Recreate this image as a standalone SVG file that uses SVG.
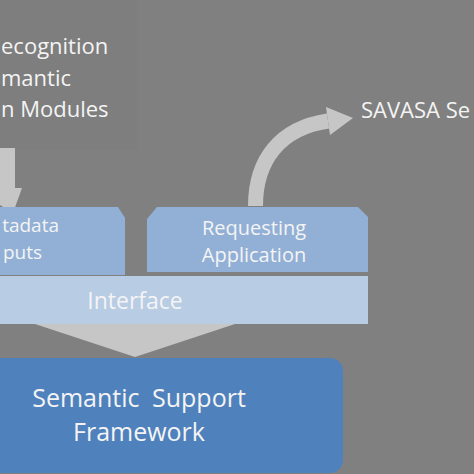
<svg xmlns="http://www.w3.org/2000/svg" width="474" height="474" viewBox="0 0 474 474">
<style>
text { font-family: "Open Sans", "Liberation Sans", sans-serif; fill: #f4f4f4; }
.input { fill: #92b0d6; }
.iface { fill: #b8cce4; }
.arrow { fill: #c6c6c6; }
</style>
<rect x="0" y="0" width="474" height="474" fill="#808080"/>
<rect x="0" y="0" width="137" height="150" fill="#7e7e7e"/>
<g id="recognition-modules">
<text x="1" y="54" font-size="22">ecognition</text>
<text x="1" y="86" font-size="22">mantic</text>
<text x="1" y="117" font-size="22">n Modules</text>
</g>
<g id="savasa-search">
<text x="361" y="118" font-size="22">SAVASA Se</text>
</g>
<g id="connectors">
<polygon class="arrow" points="0,148 15,148 15,188 22,188 13,213 0,205"/>
<path d="M255.5,206 C255.5,160 280,128 328,121" fill="none" stroke="#c6c6c6" stroke-width="15"/>
<polygon class="arrow" points="326,107 353,118 330,135"/>
<polygon class="arrow" points="35,324 235,324 135,357"/>
</g>
<g id="metadata-inputs">
<polygon class="input" points="-10,207 118,207 125,218 125,275 -10,275"/>
<text x="59" y="232" font-size="19" text-anchor="end">tadata</text>
<text x="42" y="259" font-size="19" text-anchor="end">puts</text>
</g>
<g id="requesting-application">
<polygon class="input" points="157,207 358,207 368,217 368,272 147,272 147,219"/>
<text x="254" y="235" font-size="20" text-anchor="middle">Requesting</text>
<text x="254" y="262" font-size="20" text-anchor="middle">Application</text>
</g>
<g id="interface">
<rect class="iface" x="0" y="276" width="368" height="48"/>
<text x="135" y="309" font-size="23" text-anchor="middle">Interface</text>
</g>
<g id="semantic-support-framework">
<rect x="-20" y="358" width="363" height="115" rx="13" fill="#4f81bd"/>
<text x="139" y="407" font-size="25" text-anchor="middle" word-spacing="6">Semantic Support</text>
<text x="139" y="441" font-size="25" text-anchor="middle">Framework</text>
</g>
</svg>
